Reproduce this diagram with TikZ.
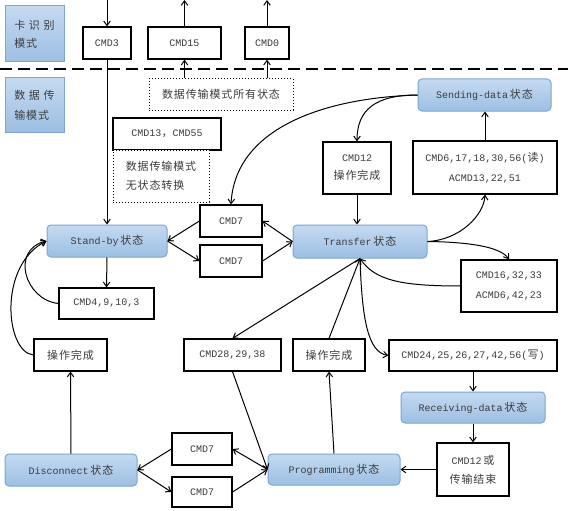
\documentclass[tikz,border=0pt]{standalone}
\usepackage{fontspec}
\setmainfont{Liberation Mono}
\newfontfamily\zh[Scale=1.1,LetterSpace=8]{Noto Sans CJK SC}
\usetikzlibrary{arrows.meta}
\definecolor{txt}{HTML}{3C3C3C}
\definecolor{blueT}{HTML}{C4DAF0}
\definecolor{blueB}{HTML}{9CBFE4}
\definecolor{blueD}{HTML}{7BA5D3}
\newcommand{\z}[1]{{\zh #1}}
\tikzset{
  >={Straight Barb[length=4.5pt,width=6.5pt]},
  conn/.style={->,line width=1pt,black},
  blk/.style={draw,line width=1.2pt,fill=white,text=txt,align=center,inner sep=1pt},
  dotbox/.style={draw,dotted,line width=1pt,fill=white,text=txt,inner sep=1pt},
  state/.style={draw=blueD,line width=1pt,rounded corners=4pt,top color=blueT,bottom color=blueB,text=txt,inner sep=1pt},
  mode/.style={draw=blueD,line width=1pt,top color=blueT,bottom color=blueB,text=txt,align=left,inner sep=1pt,minimum width=59,minimum height=56},
}
\begin{document}
\begin{tikzpicture}[x=1pt,y=-1pt]
\fill[white] (0,0) rectangle (568,511);
\useasboundingbox (0,0) rectangle (568,511);
% mode labels
\node[mode] (card) at (34.5,34) {\z{卡\,\,识\,\,别}\\[6pt]\z{模式}};
\node[mode,minimum height=54] (dmode) at (34.5,105) {\z{数\,\,据\,\,传}\\[8pt]\z{输模式}};
\draw[line width=1.6pt,dash pattern=on 12pt off 6pt] (0,69) -- (568,69);
% card identification
\node[blk,minimum width=48,minimum height=32] (cmd3) at (107,43) {CMD3};
\node[blk,minimum width=73,minimum height=32] (cmd15) at (184.5,43) {CMD15};
\node[blk,minimum width=44,minimum height=32] (cmd0) at (267,43) {CMD0};
\coordinate (t3) at (107,0);
\coordinate (t15) at (184.5,0);
\coordinate (t0) at (267,0);
\node[dotbox,minimum width=144,minimum height=31] (all) at (221,94.5) {\z{数据传输模式所有状态}};
\node[blk,minimum width=108,minimum height=32] (cmd13) at (167,134) {CMD13\z{，}CMD55};
\node[dotbox,minimum width=96,minimum height=52,align=left] (nost) at (161,176) {\z{数据传输模式}\\[7pt]\z{无状态转换}};
% states
\node[state,minimum width=120,minimum height=32] (stby) at (107,241) {Stand-by\,\z{状态}};
\node[state,minimum width=134,minimum height=33] (trans) at (360,241.5) {Transfer\,\z{状态}};
\node[state,minimum width=133,minimum height=32] (send) at (484.5,95) {Sending-data\,\z{状态}};
\node[state,minimum width=144,minimum height=31] (recv) at (473,407.5) {Receiving-data\,\z{状态}};
\node[state,minimum width=132,minimum height=32] (disc) at (71,470) {Disconnect\,\z{状态}};
\node[state,minimum width=132,minimum height=31] (prog) at (334,469.5) {Programming\,\z{状态}};
% command boxes
\node[blk,minimum width=62,minimum height=32] (c7a) at (231,221) {CMD7};
\node[blk,minimum width=62,minimum height=32] (c7b) at (231,261) {CMD7};
\node[blk,minimum width=95,minimum height=31] (cmd4) at (106.5,303.5) {CMD4,9,10,3};
\node[blk,minimum width=73,minimum height=32] (ops1) at (70.5,355) {\z{操作完成}};
\node[blk,minimum width=60,minimum height=32] (c7c) at (202,449) {CMD7};
\node[blk,minimum width=60,minimum height=30] (c7d) at (202,492) {CMD7};
\node[blk,minimum width=97,minimum height=32] (cmd28) at (232.5,355) {CMD28,29,38};
\node[blk,minimum width=72,minimum height=32] (ops2) at (329,355) {\z{操作完成}};
\node[blk,minimum width=168,minimum height=31] (cmd24) at (473,355.5) {CMD24,25,26,27,42,56(\z{写})};
\node[blk,minimum width=72,minimum height=53] (cmd12b) at (473,469.5) {CMD12\,\z{或}\\[7pt]\z{传输结束}};
\node[blk,minimum width=96,minimum height=52] (cmd16) at (509,286) {CMD16,32,33\\[8pt]ACMD6,42,23};
\node[blk,minimum width=144,minimum height=53] (cmd6) at (485,167.5) {CMD6,17,18,30,56(\z{读})\\[8pt]ACMD13,22,51};
\node[blk,minimum width=68,minimum height=52] (cmd12) at (357,168) {CMD12\\[6pt]\z{操作完成}};
% connectors: card identification
\draw[conn] (t3) -- (cmd3.north);
\draw[conn] (cmd15.north) -- (t15);
\draw[conn] (cmd0.north) -- (t0);
\draw[conn] (all.north -| cmd15) -- (cmd15.south);
\draw[conn] (all.north -| cmd0) -- (cmd0.south);
\draw[conn] (cmd3.south) -- (stby.north);
% stand-by / transfer
\draw[conn] (trans.west) -- (c7a.east);
\draw[conn] (c7a.west) -- (stby.east);
\draw[conn] (stby.east) -- (c7b.west);
\draw[conn] (c7b.east) -- (trans.west);
\draw[conn] (stby.south) -- (cmd4.north);
\draw[conn] (cmd4.west) .. controls (25,300) and (10,250) .. (stby.west);
\draw[conn] (ops1.west) .. controls (5,352) and (-2,265) .. (stby.west);
\draw[conn] (disc.north) -- (ops1.south);
% sending data
\draw[conn] (send.west) .. controls (375,95) and (357,110) .. (cmd12.north);
\draw[conn] (send.west) .. controls (320,98) and (235,130) .. (c7a.north);
\draw[conn] (cmd12.south) -- (cmd12.south |- trans.north);
\draw[conn] (cmd6.north) -- (cmd6.north |- send.south);
\draw[conn] (trans.east) .. controls (460,240) and (484,215) .. (cmd6.south);
% transfer outgoing
\draw[conn] (trans.east) .. controls (465,242) and (500,246) .. (cmd16.north);
\draw[conn] (cmd16.west) .. controls (400,286) and (375,280) .. (trans.south);
\draw[conn] (trans.south) .. controls (362,320) and (368,352) .. (cmd24.west);
\draw[conn] (trans.south) -- (cmd28.north);
\draw[conn] (ops2.north) -- (trans.south);
\draw[conn] (cmd28.south) -- (prog.west);
\draw[conn] (prog.north) -- (ops2.south);
\draw[conn] (cmd24.south) -- (recv.north);
\draw[conn] (recv.south) -- (cmd12b.north);
\draw[conn] (cmd12b.west) -- (prog.east);
% programming / disconnect
\draw[conn] (prog.west) -- (c7c.east);
\draw[conn] (c7c.west) -- (disc.east);
\draw[conn] (disc.east) -- (c7d.west);
\draw[conn] (c7d.east) -- (prog.west);
\end{tikzpicture}
\end{document}
